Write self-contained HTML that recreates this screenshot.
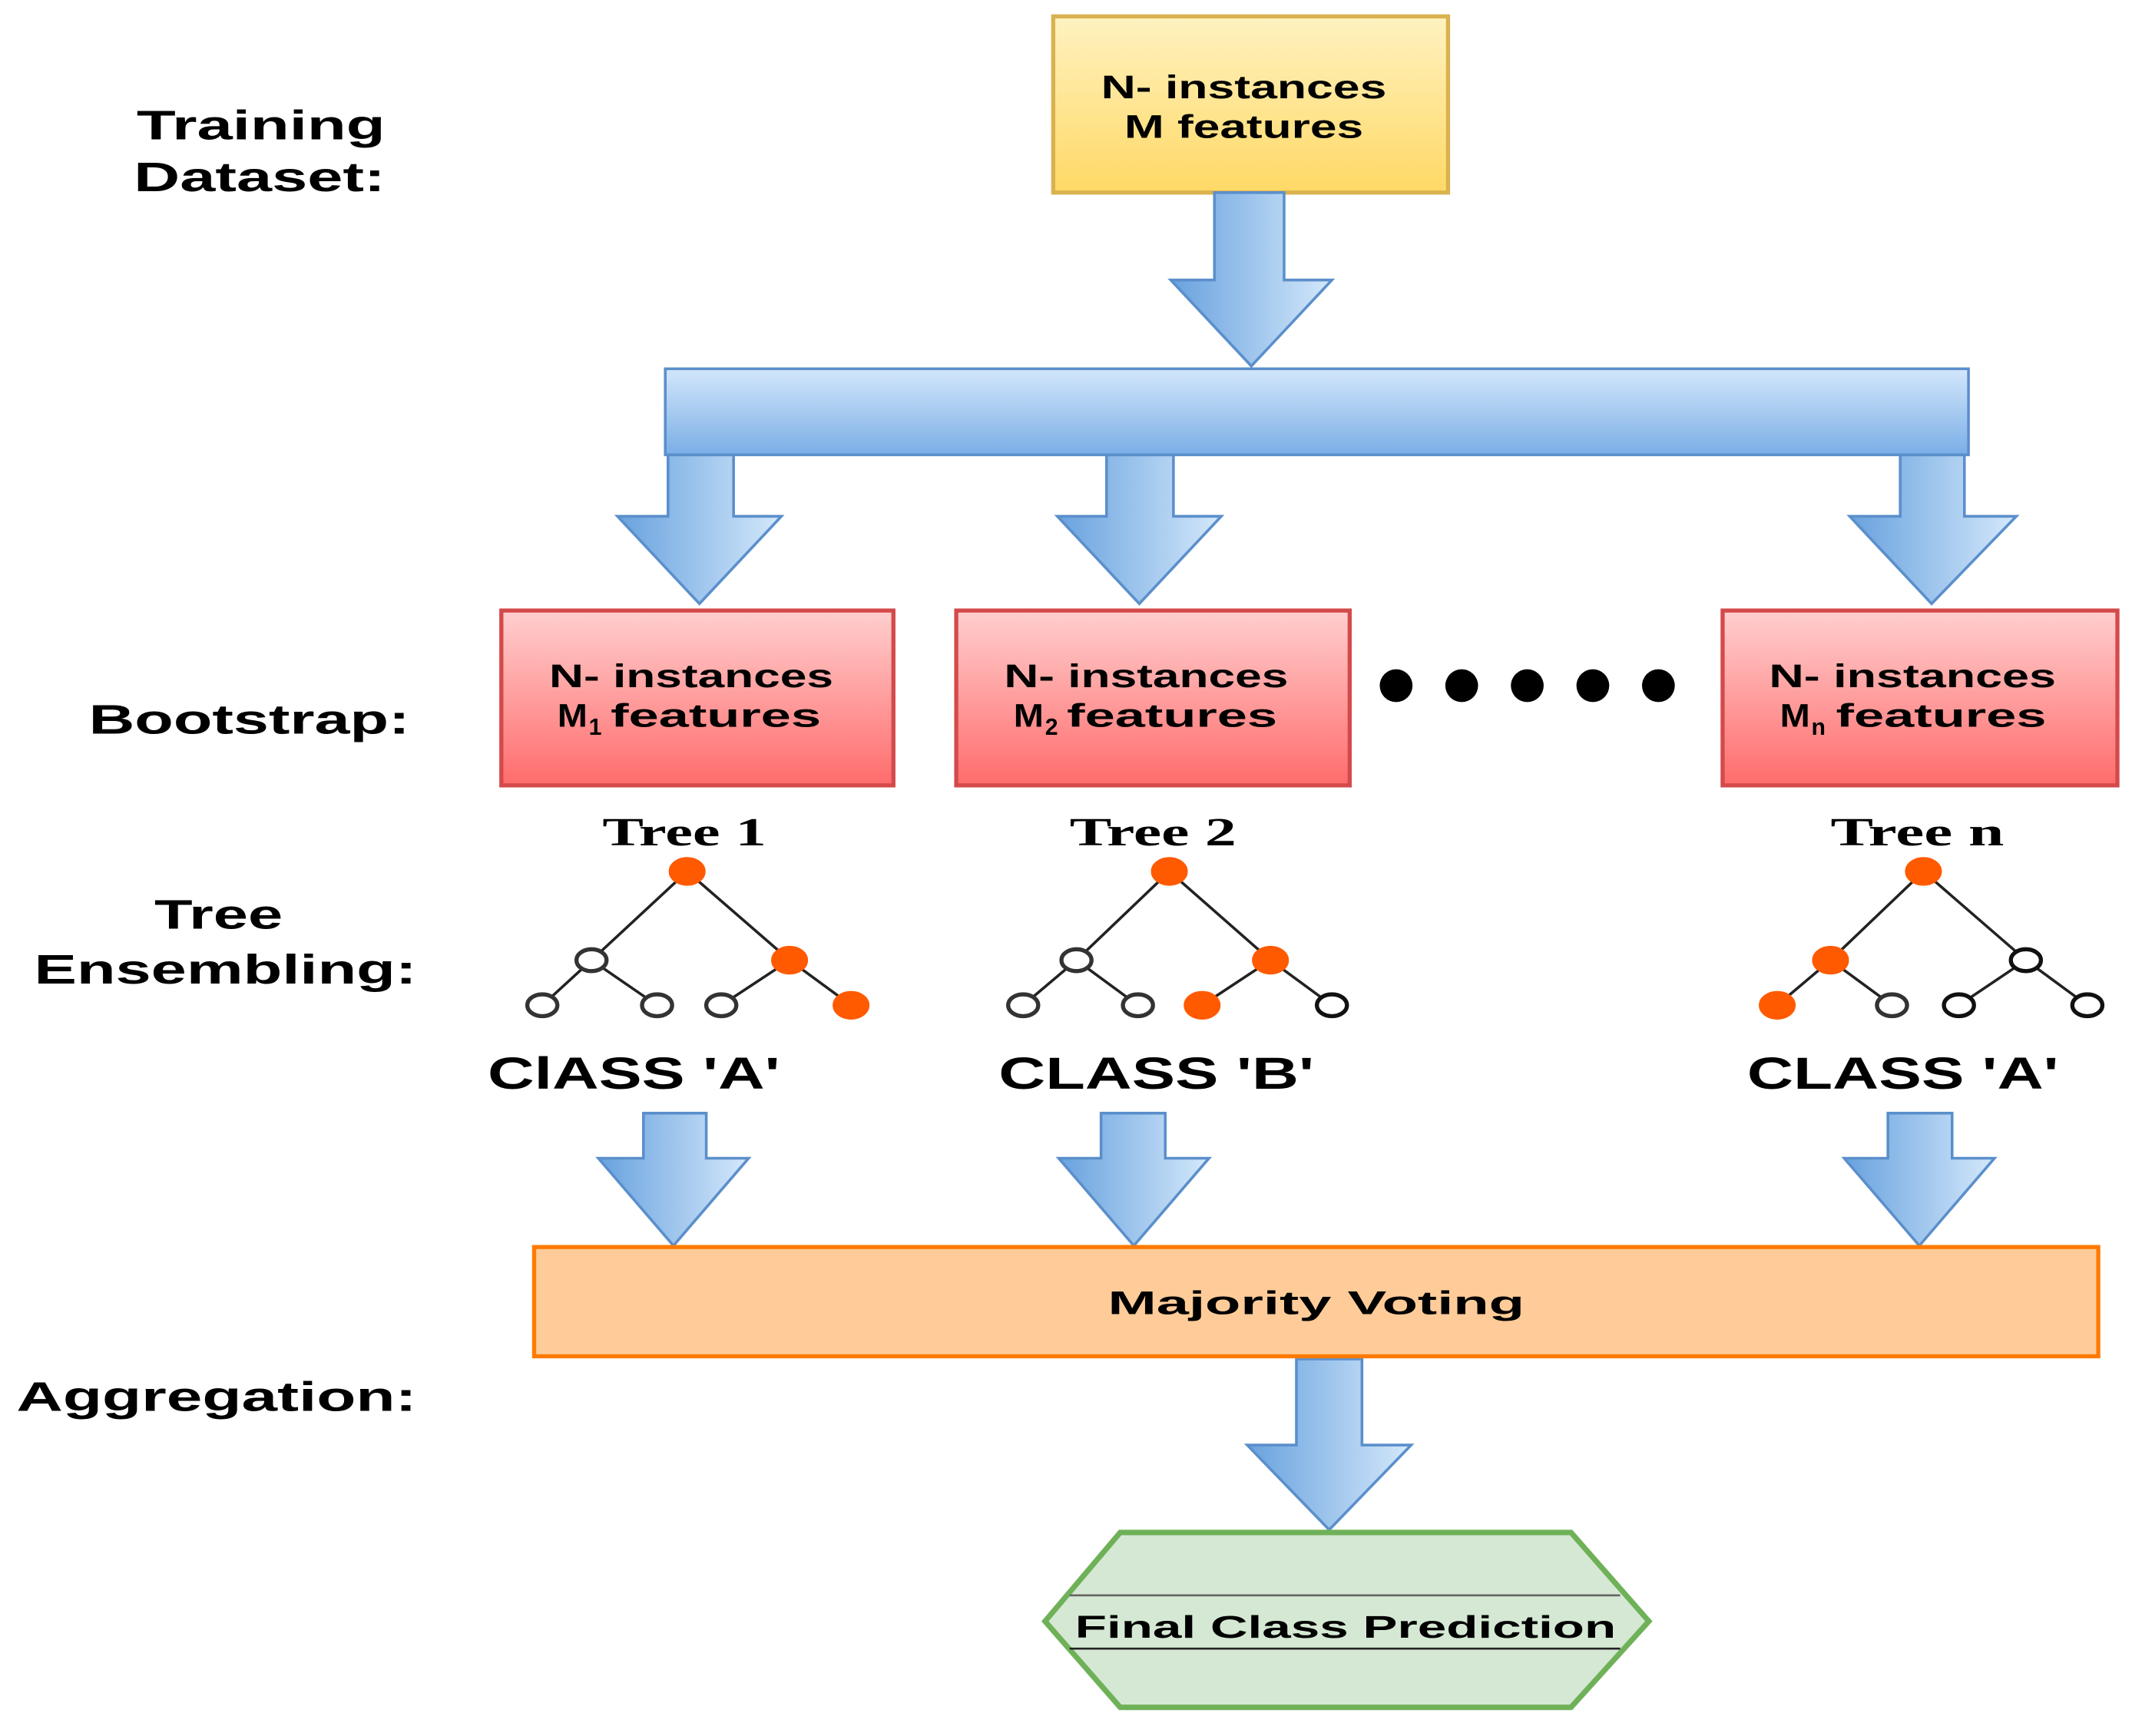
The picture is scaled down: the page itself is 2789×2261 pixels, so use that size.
<!DOCTYPE html>
<html><head><meta charset="utf-8"><style>
html,body{margin:0;padding:0;background:#fff;}
svg{display:block;}
text{font-family:"Liberation Sans",sans-serif;font-weight:bold;fill:#000;}
.serif{font-family:"Liberation Serif",serif;}
</style></head><body>
<svg width="2789" height="2261" viewBox="0 0 1568 1271" preserveAspectRatio="none" xmlns="http://www.w3.org/2000/svg">
<defs>
<linearGradient id="yel" x1="0" y1="0" x2="0" y2="1"><stop offset="0" stop-color="#fff2c0"/><stop offset="1" stop-color="#ffd966"/></linearGradient>
<linearGradient id="red" x1="0" y1="0" x2="0" y2="1"><stop offset="0" stop-color="#ffcfcf"/><stop offset="1" stop-color="#ff6c6c"/></linearGradient>
<linearGradient id="bar" x1="0" y1="0" x2="0" y2="1"><stop offset="0" stop-color="#d3e7fb"/><stop offset="1" stop-color="#7aaee6"/></linearGradient>
<linearGradient id="arr" x1="0" y1="0" x2="1" y2="0"><stop offset="0" stop-color="#68a2de"/><stop offset="1" stop-color="#d4e8fb"/></linearGradient>
</defs>

<text x="100" y="102" font-size="30" textLength="182" lengthAdjust="spacingAndGlyphs">Training</text>
<text x="98" y="140" font-size="30" textLength="184" lengthAdjust="spacingAndGlyphs">Dataset:</text>
<text x="65" y="537" font-size="30" textLength="235" lengthAdjust="spacingAndGlyphs">Bootstrap:</text>
<text x="113" y="680" font-size="30" textLength="94" lengthAdjust="spacingAndGlyphs">Tree</text>
<text x="25" y="720" font-size="30" textLength="280" lengthAdjust="spacingAndGlyphs">Ensembling:</text>
<text x="12" y="1033" font-size="30" textLength="293" lengthAdjust="spacingAndGlyphs">Aggregation:</text>

<rect x="771" y="12" width="289" height="129" fill="url(#yel)" stroke="#d9b24f" stroke-width="3"/>
<text x="806" y="72" font-size="24" textLength="209" lengthAdjust="spacingAndGlyphs">N- instances</text>
<text x="823" y="101" font-size="24" textLength="175" lengthAdjust="spacingAndGlyphs">M features</text>

<g fill="url(#arr)" stroke="#5b8fcb" stroke-width="2">
<path d="M889,141 L940,141 L940,205 L975,205 L916,268 L857,205 L889,205 Z"/>
<path d="M489,333 L537,333 L537,378 L572,378 L512,442 L452,378 L489,378 Z"/>
<path d="M810,333 L859,333 L859,378 L894,378 L834,442 L774,378 L810,378 Z"/>
<path d="M1391,333 L1438,333 L1438,378 L1476,378 L1414,442 L1354,378 L1391,378 Z"/>
<path d="M471,815 L517,815 L517,848 L548,848 L493,912 L438,848 L471,848 Z"/>
<path d="M806,815 L853,815 L853,848 L885,848 L830,912 L775,848 L806,848 Z"/>
<path d="M1382,815 L1429,815 L1429,848 L1460,848 L1405,912 L1350,848 L1382,848 Z"/>
<path d="M949,995 L997,995 L997,1058 L1033,1058 L973,1120 L913,1058 L949,1058 Z"/>
</g>
<rect x="487" y="270" width="954" height="63" fill="url(#bar)" stroke="#5b8fcb" stroke-width="2"/>

<g fill="url(#red)" stroke="#d44a4a" stroke-width="3">
<rect x="367" y="447" width="287" height="128"/>
<rect x="700" y="447" width="288" height="128"/>
<rect x="1261" y="447" width="289" height="128"/>
</g>
<text x="402" y="503" font-size="24" textLength="208" lengthAdjust="spacingAndGlyphs">N- instances</text>
<text x="408" y="532" font-size="24" textLength="22" lengthAdjust="spacingAndGlyphs">M</text>
<text x="431" y="538" font-size="17">1</text>
<text x="447" y="532" font-size="24" textLength="154" lengthAdjust="spacingAndGlyphs">features</text>
<text x="735" y="503" font-size="24" textLength="208" lengthAdjust="spacingAndGlyphs">N- instances</text>
<text x="742" y="532" font-size="24" textLength="22" lengthAdjust="spacingAndGlyphs">M</text>
<text x="765" y="538" font-size="17">2</text>
<text x="781" y="532" font-size="24" textLength="154" lengthAdjust="spacingAndGlyphs">features</text>
<text x="1295" y="503" font-size="24" textLength="210" lengthAdjust="spacingAndGlyphs">N- instances</text>
<text x="1303" y="532" font-size="24" textLength="22" lengthAdjust="spacingAndGlyphs">M</text>
<text x="1326" y="538" font-size="17">n</text>
<text x="1344" y="532" font-size="24" textLength="154" lengthAdjust="spacingAndGlyphs">features</text>

<g fill="#000"><circle cx="1022" cy="502" r="12"/><circle cx="1070" cy="502" r="12"/><circle cx="1118" cy="502" r="12"/><circle cx="1166" cy="502" r="12"/><circle cx="1214" cy="502" r="12"/></g>

<text class="serif" x="441" y="619" font-size="29" textLength="120" lengthAdjust="spacingAndGlyphs">Tree 1</text>
<text class="serif" x="783" y="619" font-size="29" textLength="122" lengthAdjust="spacingAndGlyphs">Tree 2</text>
<text class="serif" x="1340" y="619" font-size="29" textLength="127" lengthAdjust="spacingAndGlyphs">Tree n</text>

<g stroke="#222" stroke-width="2">
<path d="M503,638 L433,703 M503,638 L578,703 M433,703 L397,736 M433,703 L481,736 M578,703 L528,736 M578,703 L623,736"/>
<path d="M856,638 L788,703 M856,638 L930,703 M788,703 L749,736 M788,703 L833,736 M930,703 L880,736 M930,703 L975,736"/>
<path d="M1408,638 L1340,703 M1408,638 L1483,703 M1340,703 L1301,736 M1340,703 L1385,736 M1483,703 L1434,736 M1483,703 L1528,736"/>
</g>
<g stroke-width="3">
<ellipse cx="503" cy="638" rx="12" ry="9" fill="#ff5a00" stroke="#ff5a00"/>
<ellipse cx="433" cy="703" rx="11" ry="8" fill="#fff" stroke="#333"/>
<ellipse cx="578" cy="703" rx="12" ry="9" fill="#ff5a00" stroke="#ff5a00"/>
<ellipse cx="397" cy="736" rx="11" ry="8" fill="#fff" stroke="#333"/>
<ellipse cx="481" cy="736" rx="11" ry="8" fill="#fff" stroke="#333"/>
<ellipse cx="528" cy="736" rx="11" ry="8" fill="#fff" stroke="#333"/>
<ellipse cx="623" cy="736" rx="12" ry="9" fill="#ff5a00" stroke="#ff5a00"/>
<ellipse cx="856" cy="638" rx="12" ry="9" fill="#ff5a00" stroke="#ff5a00"/>
<ellipse cx="788" cy="703" rx="11" ry="8" fill="#fff" stroke="#333"/>
<ellipse cx="930" cy="703" rx="12" ry="9" fill="#ff5a00" stroke="#ff5a00"/>
<ellipse cx="749" cy="736" rx="11" ry="8" fill="#fff" stroke="#333"/>
<ellipse cx="833" cy="736" rx="11" ry="8" fill="#fff" stroke="#333"/>
<ellipse cx="880" cy="736" rx="12" ry="9" fill="#ff5a00" stroke="#ff5a00"/>
<ellipse cx="975" cy="736" rx="11" ry="8" fill="#fff" stroke="#111"/>
<ellipse cx="1408" cy="638" rx="12" ry="9" fill="#ff5a00" stroke="#ff5a00"/>
<ellipse cx="1340" cy="703" rx="12" ry="9" fill="#ff5a00" stroke="#ff5a00"/>
<ellipse cx="1483" cy="703" rx="11" ry="8" fill="#fff" stroke="#111"/>
<ellipse cx="1301" cy="736" rx="12" ry="9" fill="#ff5a00" stroke="#ff5a00"/>
<ellipse cx="1385" cy="736" rx="11" ry="8" fill="#fff" stroke="#333"/>
<ellipse cx="1434" cy="736" rx="11" ry="8" fill="#fff" stroke="#111"/>
<ellipse cx="1528" cy="736" rx="11" ry="8" fill="#fff" stroke="#111"/>
</g>

<text x="357" y="797" font-size="33" textLength="214" lengthAdjust="spacingAndGlyphs">ClASS 'A'</text>
<text x="731" y="797" font-size="33" textLength="231" lengthAdjust="spacingAndGlyphs">CLASS 'B'</text>
<text x="1279" y="797" font-size="33" textLength="228" lengthAdjust="spacingAndGlyphs">CLASS 'A'</text>

<rect x="391" y="913" width="1145" height="80" fill="#ffcc99" stroke="#ff7a00" stroke-width="3"/>
<text x="811" y="962" font-size="24" textLength="305" lengthAdjust="spacingAndGlyphs">Majority Voting</text>

<polygon points="765,1187 820,1122 1150,1122 1207,1187 1150,1250 820,1250" fill="#d5e8d4" stroke="#6fb158" stroke-width="4"/>
<line x1="783" y1="1168" x2="1186" y2="1168" stroke="#666" stroke-width="1.5"/>
<line x1="783" y1="1207" x2="1186" y2="1207" stroke="#222" stroke-width="1.5"/>
<text x="787" y="1199" font-size="23" textLength="396" lengthAdjust="spacingAndGlyphs">Final Class Prediction</text>
</svg>
</body></html>
